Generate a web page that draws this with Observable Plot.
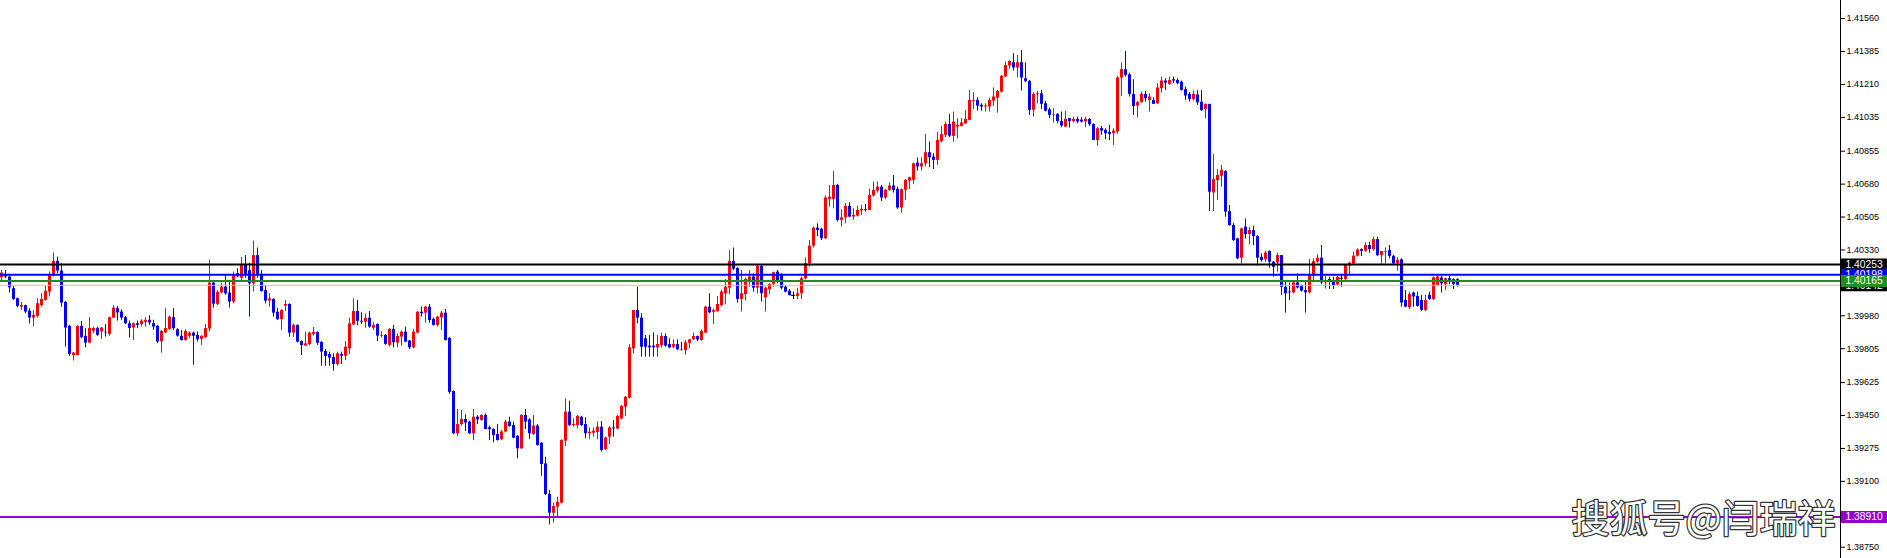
<!DOCTYPE html>
<html><head><meta charset="utf-8">
<script src="https://cdn.jsdelivr.net/npm/d3@7"></script>
<script src="https://cdn.jsdelivr.net/npm/@observablehq/plot@0.6"></script>
<style>
html,body{margin:0;padding:0;background:#fff;}
#chart svg{display:block;}
</style></head><body><div id="chart"></div>
<script>
const open = [
1.40182,1.40195,1.40186,1.40124,1.40071,1.40026,1.40034,1.40005,1.39968,1.39977,
1.40035,1.40062,1.40106,1.40191,1.40269,1.40218,1.40052,1.39924,1.39769,1.39769,
1.39924,1.39871,1.39835,1.39898,1.39912,1.39894,1.39892,1.39881,1.39968,1.40018,
1.40000,1.39970,1.39938,1.39915,1.39938,1.39933,1.39945,1.39956,1.39938,1.39924,
1.39842,1.39889,1.39908,1.39970,1.39906,1.39871,1.39849,1.39871,1.39888,1.39876,
1.39855,1.39864,1.39910,1.40154,1.40041,1.40101,1.40133,1.40101,1.40053,1.40204,
1.40180,1.40250,1.40220,1.40150,1.40300,1.40200,1.40114,1.40058,1.40067,1.39999,
1.39960,1.40031,1.40040,1.39888,1.39928,1.39843,1.39819,1.39827,1.39881,1.39891,
1.39838,1.39790,1.39774,1.39758,1.39721,1.39774,1.39765,1.39804,1.39932,1.40003,
1.39951,1.39946,1.39967,1.39914,1.39934,1.39872,1.39876,1.39823,1.39908,1.39835,
1.39867,1.39893,1.39846,1.39810,1.39888,1.39999,1.39994,1.40026,1.39961,1.39929,
1.39970,1.39994,1.39860,1.39578,1.39353,1.39402,1.39429,1.39415,1.39353,1.39441,
1.39424,1.39450,1.39385,1.39376,1.39349,1.39321,1.39362,1.39415,1.39397,1.39339,
1.39273,1.39450,1.39427,1.39349,1.39394,1.39303,1.39193,1.39030,1.38931,1.38963,
1.38984,1.39314,1.39468,1.39397,1.39397,1.39441,1.39402,1.39353,1.39356,1.39360,
1.39388,1.39268,1.39335,1.39384,1.39379,1.39432,1.39494,1.39542,1.39804,1.40008,
1.39968,1.39858,1.39819,1.39819,1.39810,1.39822,1.39870,1.39827,1.39813,1.39827,
1.39801,1.39796,1.39834,1.39854,1.39870,1.39849,1.39888,1.40026,1.39999,1.40003,
1.40035,1.40097,1.40127,1.40269,1.40232,1.40067,1.40093,1.40168,1.40186,1.40127,
1.40242,1.40076,1.40120,1.40147,1.40212,1.40200,1.40132,1.40111,1.40088,1.40083,
1.40097,1.40177,1.40257,1.40350,1.40446,1.40440,1.40390,1.40599,1.40599,1.40673,
1.40487,1.40501,1.40562,1.40505,1.40510,1.40537,1.40544,1.40540,1.40617,1.40643,
1.40664,1.40606,1.40647,1.40670,1.40652,1.40553,1.40647,1.40696,1.40700,1.40792,
1.40771,1.40788,1.40847,1.40824,1.40806,1.40907,1.40939,1.40997,1.40934,1.40983,
1.40987,1.41001,1.41019,1.41120,1.41125,1.41099,1.41090,1.41090,1.41121,1.41137,
1.41169,1.41249,1.41308,1.41325,1.41297,1.41325,1.41240,1.41226,1.41072,1.41155,
1.41160,1.41107,1.41075,1.41047,1.41050,1.41013,1.40983,1.41028,1.41013,1.41024,
1.41020,1.41010,1.41024,1.40997,1.40912,1.40976,1.40966,1.40955,1.40948,1.40957,
1.41244,1.41288,1.41261,1.41157,1.41095,1.41113,1.41157,1.41125,1.41125,1.41107,
1.41187,1.41228,1.41210,1.41235,1.41231,1.41222,1.41182,1.41157,1.41130,1.41154,
1.41115,1.41076,1.41103,1.40633,1.40699,1.40722,1.40747,1.40534,1.40460,1.40389,
1.40286,1.40451,1.40412,1.40433,1.40401,1.40291,1.40279,1.40322,1.40265,1.40261,
1.40300,1.40132,1.40106,1.40102,1.40155,1.40135,1.40114,1.40102,1.40191,1.40265,
1.40286,1.40155,1.40173,1.40162,1.40144,1.40180,1.40173,1.40244,1.40256,1.40297,
1.40332,1.40323,1.40354,1.40332,1.40385,1.40300,1.40318,1.40328,1.40296,1.40257,
1.40278,1.40062,1.40023,1.40101,1.40083,1.40062,1.40009,1.40089,1.40067,1.40142,
1.40181,1.40145,1.40177,1.40172,1.40172
];
const high = [
1.40221,1.40221,1.40189,1.40136,1.40074,1.40051,1.40037,1.40018,1.40009,1.40071,
1.40097,1.40136,1.40213,1.40314,1.40292,1.40257,1.40055,1.39929,1.39785,1.39927,
1.39950,1.39912,1.39970,1.39920,1.39920,1.39918,1.39933,1.39973,1.40035,1.40030,
1.40012,1.39977,1.39952,1.39941,1.39952,1.39959,1.39970,1.39980,1.39956,1.39929,
1.39902,1.40018,1.39977,1.40018,1.39912,1.39902,1.39906,1.39894,1.39894,1.39894,
1.39874,1.39934,1.40275,1.40168,1.40115,1.40154,1.40195,1.40168,1.40213,1.40230,
1.40290,1.40300,1.40260,1.40377,1.40340,1.40220,1.40141,1.40097,1.40070,1.40020,
1.40012,1.40061,1.40044,1.39937,1.39932,1.39847,1.39893,1.39893,1.39918,1.39895,
1.39842,1.39801,1.39787,1.39778,1.39787,1.39787,1.39843,1.39967,1.40070,1.40061,
1.39996,1.39990,1.40003,1.39943,1.39937,1.39896,1.39881,1.39911,1.39929,1.39884,
1.39899,1.39920,1.39849,1.39908,1.40003,1.40026,1.40030,1.40040,1.39968,1.39977,
1.40003,1.40014,1.39865,1.39580,1.39482,1.39477,1.39454,1.39420,1.39482,1.39450,
1.39454,1.39459,1.39394,1.39379,1.39402,1.39371,1.39424,1.39441,1.39415,1.39344,
1.39454,1.39482,1.39433,1.39450,1.39402,1.39306,1.39228,1.39051,1.38984,1.39016,
1.39321,1.39539,1.39526,1.39432,1.39450,1.39445,1.39438,1.39384,1.39384,1.39415,
1.39418,1.39335,1.39392,1.39423,1.39450,1.39503,1.39551,1.39827,1.40010,1.40132,
1.39991,1.39875,1.39875,1.39889,1.39875,1.39888,1.39884,1.39858,1.39852,1.39852,
1.39838,1.39849,1.39854,1.39888,1.39872,1.39905,1.40030,1.40097,1.40017,1.40083,
1.40115,1.40173,1.40327,1.40340,1.40235,1.40221,1.40180,1.40221,1.40203,1.40248,
1.40251,1.40132,1.40150,1.40212,1.40221,1.40203,1.40141,1.40120,1.40106,1.40127,
1.40186,1.40287,1.40380,1.40452,1.40469,1.40446,1.40617,1.40673,1.40748,1.40679,
1.40544,1.40576,1.40581,1.40549,1.40563,1.40567,1.40572,1.40652,1.40691,1.40691,
1.40673,1.40650,1.40686,1.40726,1.40664,1.40655,1.40705,1.40717,1.40792,1.40819,
1.40820,1.40944,1.40904,1.40842,1.40955,1.40987,1.41010,1.41051,1.41063,1.41028,
1.41028,1.41072,1.41178,1.41166,1.41139,1.41107,1.41107,1.41137,1.41191,1.41178,
1.41258,1.41329,1.41338,1.41373,1.41364,1.41391,1.41325,1.41231,1.41166,1.41173,
1.41178,1.41120,1.41084,1.41081,1.41054,1.41063,1.41067,1.41030,1.41036,1.41036,
1.41033,1.41036,1.41028,1.41001,1.40980,1.40987,1.40974,1.40992,1.40974,1.41253,
1.41325,1.41385,1.41270,1.41235,1.41120,1.41169,1.41173,1.41160,1.41139,1.41214,
1.41249,1.41240,1.41249,1.41249,1.41240,1.41228,1.41196,1.41166,1.41175,1.41177,
1.41177,1.41107,1.41105,1.40837,1.40757,1.40779,1.40752,1.40566,1.40472,1.40392,
1.40446,1.40495,1.40451,1.40456,1.40407,1.40309,1.40323,1.40325,1.40268,1.40314,
1.40300,1.40158,1.40155,1.40158,1.40203,1.40144,1.40162,1.40279,1.40283,1.40304,
1.40354,1.40189,1.40185,1.40185,1.40189,1.40194,1.40253,1.40265,1.40318,1.40336,
1.40336,1.40368,1.40371,1.40398,1.40398,1.40322,1.40341,1.40354,1.40301,1.40289,
1.40283,1.40115,1.40106,1.40106,1.40106,1.40089,1.40089,1.40106,1.40186,1.40191,
1.40189,1.40180,1.40189,1.40177,1.40177
];
const low = [
1.40168,1.40177,1.40101,1.40062,1.40023,1.40009,1.39991,1.39938,1.39920,1.39968,
1.40026,1.40058,1.40080,1.40186,1.40204,1.40026,1.39814,1.39764,1.39740,1.39768,
1.39858,1.39811,1.39832,1.39885,1.39871,1.39855,1.39867,1.39871,1.39965,1.39952,
1.39956,1.39933,1.39862,1.39849,1.39912,1.39920,1.39920,1.39929,1.39902,1.39832,
1.39782,1.39885,1.39902,1.39902,1.39867,1.39846,1.39846,1.39858,1.39717,1.39841,
1.39823,1.39858,1.39894,1.40021,1.40035,1.40097,1.40089,1.40021,1.40044,1.40182,
1.40160,1.40180,1.39973,1.40106,1.40180,1.40106,1.40044,1.40026,1.39973,1.39955,
1.39902,1.40003,1.39866,1.39866,1.39836,1.39769,1.39817,1.39819,1.39872,1.39822,
1.39712,1.39712,1.39712,1.39686,1.39712,1.39721,1.39742,1.39774,1.39928,1.39928,
1.39934,1.39914,1.39914,1.39902,1.39843,1.39861,1.39823,1.39814,1.39810,1.39810,
1.39819,1.39837,1.39801,1.39805,1.39884,1.39973,1.39941,1.39941,1.39925,1.39920,
1.39902,1.39846,1.39562,1.39349,1.39339,1.39394,1.39365,1.39349,1.39317,1.39402,
1.39420,1.39374,1.39317,1.39305,1.39314,1.39317,1.39358,1.39388,1.39326,1.39220,
1.39270,1.39376,1.39323,1.39344,1.39287,1.39127,1.39025,1.38869,1.38878,1.38910,
1.38980,1.39285,1.39392,1.39388,1.39379,1.39392,1.39326,1.39321,1.39335,1.39321,
1.39255,1.39264,1.39296,1.39335,1.39374,1.39427,1.39445,1.39539,1.39778,1.39938,
1.39760,1.39760,1.39760,1.39760,1.39760,1.39808,1.39813,1.39804,1.39804,1.39795,
1.39792,1.39771,1.39804,1.39849,1.39843,1.39845,1.39885,1.39991,1.39934,1.39999,
1.40026,1.40040,1.40093,1.40221,1.40047,1.40000,1.40058,1.40132,1.40106,1.40097,
1.40053,1.40000,1.40092,1.40132,1.40150,1.40118,1.40102,1.40085,1.40067,1.40067,
1.40067,1.40170,1.40240,1.40340,1.40400,1.40380,1.40385,1.40558,1.40549,1.40478,
1.40452,1.40469,1.40501,1.40487,1.40505,1.40514,1.40531,1.40540,1.40611,1.40632,
1.40588,1.40597,1.40641,1.40632,1.40546,1.40526,1.40593,1.40652,1.40679,1.40749,
1.40749,1.40771,1.40767,1.40758,1.40780,1.40898,1.40927,1.40927,1.40903,1.40921,
1.40983,1.40997,1.41019,1.41077,1.41068,1.41068,1.41063,1.41063,1.41093,1.41058,
1.41164,1.41246,1.41290,1.41281,1.41244,1.41175,1.41219,1.41045,1.41036,1.41107,
1.41077,1.41063,1.41028,1.41005,1.41001,1.40980,1.40980,1.40978,1.41005,1.41001,
1.41005,1.40980,1.40987,1.40912,1.40881,1.40939,1.40916,1.40912,1.40886,1.40944,
1.41146,1.41249,1.41143,1.41045,1.41031,1.41111,1.41116,1.41063,1.41104,1.41104,
1.41164,1.41178,1.41205,1.41214,1.41208,1.41175,1.41125,1.41116,1.41121,1.41098,
1.41066,1.41027,1.40534,1.40534,1.40593,1.40664,1.40504,1.40456,1.40375,1.40279,
1.40256,1.40389,1.40357,1.40353,1.40244,1.40265,1.40265,1.40233,1.40185,1.40212,
1.40088,1.39994,1.40061,1.40097,1.40123,1.40106,1.39994,1.40097,1.40155,1.40260,
1.40146,1.40123,1.40120,1.40120,1.40137,1.40132,1.40168,1.40194,1.40251,1.40292,
1.40295,1.40318,1.40313,1.40323,1.40295,1.40247,1.40256,1.40283,1.40248,1.40218,
1.40026,1.40023,1.40012,1.40026,1.40026,1.40003,1.40003,1.40062,1.40062,1.40142,
1.40101,1.40115,1.40145,1.40120,1.40133
];
const close = [
1.40207,1.40186,1.40129,1.40067,1.40030,1.40035,1.40000,1.39968,1.39982,1.40044,
1.40067,1.40110,1.40195,1.40269,1.40218,1.40048,1.39915,1.39775,1.39782,1.39924,
1.39864,1.39835,1.39913,1.39912,1.39876,1.39915,1.39889,1.39970,1.40021,1.39995,
1.39968,1.39938,1.39913,1.39938,1.39929,1.39952,1.39956,1.39942,1.39920,1.39841,
1.39897,1.39912,1.39973,1.39912,1.39872,1.39849,1.39897,1.39888,1.39871,1.39853,
1.39871,1.39912,1.40154,1.40042,1.40104,1.40133,1.40097,1.40053,1.40195,1.40186,
1.40250,1.40200,1.40150,1.40300,1.40200,1.40109,1.40058,1.40070,1.39994,1.39960,
1.40008,1.40040,1.39888,1.39928,1.39840,1.39822,1.39831,1.39888,1.39891,1.39834,
1.39787,1.39764,1.39755,1.39721,1.39778,1.39765,1.39813,1.39937,1.40003,1.39951,
1.39946,1.39967,1.39920,1.39928,1.39872,1.39876,1.39828,1.39908,1.39837,1.39870,
1.39893,1.39840,1.39810,1.39893,1.39999,1.39991,1.40026,1.39955,1.39929,1.39973,
1.39994,1.39849,1.39573,1.39353,1.39402,1.39429,1.39410,1.39353,1.39441,1.39427,
1.39450,1.39376,1.39376,1.39344,1.39317,1.39362,1.39415,1.39392,1.39330,1.39273,
1.39450,1.39415,1.39353,1.39394,1.39291,1.39190,1.39030,1.38931,1.38966,1.38989,
1.39317,1.39468,1.39397,1.39402,1.39445,1.39397,1.39353,1.39361,1.39367,1.39388,
1.39264,1.39331,1.39384,1.39379,1.39445,1.39498,1.39547,1.39810,1.40008,1.39968,
1.39813,1.39813,1.39810,1.39810,1.39827,1.39870,1.39819,1.39810,1.39827,1.39799,
1.39799,1.39836,1.39852,1.39870,1.39852,1.39897,1.40026,1.39996,1.40008,1.40040,
1.40106,1.40132,1.40269,1.40228,1.40067,1.40097,1.40173,1.40186,1.40127,1.40242,
1.40097,1.40127,1.40147,1.40209,1.40168,1.40127,1.40106,1.40088,1.40088,1.40097,
1.40177,1.40257,1.40350,1.40446,1.40434,1.40390,1.40606,1.40611,1.40673,1.40487,
1.40501,1.40562,1.40505,1.40514,1.40540,1.40546,1.40540,1.40620,1.40647,1.40664,
1.40606,1.40647,1.40670,1.40647,1.40553,1.40650,1.40700,1.40714,1.40788,1.40771,
1.40788,1.40847,1.40820,1.40806,1.40912,1.40943,1.40997,1.40935,1.41010,1.40992,
1.41005,1.41024,1.41125,1.41125,1.41095,1.41090,1.41095,1.41125,1.41143,1.41173,
1.41253,1.41311,1.41332,1.41297,1.41325,1.41244,1.41226,1.41072,1.41157,1.41160,
1.41104,1.41068,1.41045,1.41050,1.41013,1.40989,1.41024,1.41013,1.41024,1.41010,
1.41010,1.41024,1.40996,1.40912,1.40974,1.40962,1.40948,1.40944,1.40962,1.41244,
1.41288,1.41258,1.41157,1.41093,1.41113,1.41157,1.41134,1.41143,1.41104,1.41191,
1.41228,1.41217,1.41231,1.41228,1.41214,1.41178,1.41148,1.41130,1.41157,1.41112,
1.41071,1.41103,1.40637,1.40704,1.40726,1.40752,1.40531,1.40460,1.40380,1.40283,
1.40442,1.40412,1.40433,1.40401,1.40286,1.40274,1.40314,1.40265,1.40238,1.40300,
1.40132,1.40097,1.40102,1.40155,1.40128,1.40111,1.40102,1.40194,1.40268,1.40286,
1.40155,1.40168,1.40159,1.40141,1.40185,1.40180,1.40247,1.40260,1.40297,1.40330,
1.40323,1.40354,1.40332,1.40385,1.40300,1.40322,1.40322,1.40296,1.40257,1.40275,
1.40048,1.40026,1.40094,1.40080,1.40030,1.40009,1.40062,1.40067,1.40182,1.40186,
1.40150,1.40177,1.40168,1.40147,1.40142
];
const tickValues = [1.41560, 1.41385, 1.41210, 1.41035, 1.40855, 1.40680, 1.40505, 1.40330,
                    1.39980, 1.39805, 1.39625, 1.39450, 1.39275, 1.39100, 1.38750];
const resistance = 1.40253;   // black line
const blueLevel = 1.40198;    // blue line
const askLevel = 1.40165;     // green line
const bidLevel = 1.40142;     // grey line
const support = 1.38910;      // purple line
const watermark = "搜狐号@闫瑞祥";

const candles = open.map((o, i) => ({i, o, h: high[i], l: low[i], c: close[i]}));
const colorOf = d => d.c > d.o ? "#ff0000" : d.c < d.o ? "#0000ff" : "#000000";
const xMin = -0.25, xMax = 459.75;

function labelBox(v, color) {
  return [
    Plot.ruleY([v], {x1: xMax + 0.25, x2: xMax + 12.5, stroke: color, strokeWidth: 12}),
    Plot.text([v], {x: xMax, y: d => d, dx: 5, text: d => d.toFixed(5), textAnchor: "start",
                    fill: "white", fontSize: 10.3})
  ];
}

const chart = Plot.plot({
  width: 1887, height: 558,
  marginLeft: 0, marginRight: 47, marginTop: 0, marginBottom: 0,
  style: {background: "white", fontFamily: "'Liberation Sans', Arial, sans-serif", overflow: "visible", color: "black"},
  x: {domain: [xMin, xMax], axis: null},
  y: {domain: [1.38690, 1.41656], axis: null},
  marks: [
    Plot.ruleX(candles, {x: "i", y1: "l", y2: "h", stroke: colorOf, strokeWidth: 1}),
    Plot.ruleX(candles.filter(d => d.o !== d.c), {x: "i", y1: "o", y2: "c", stroke: colorOf, strokeWidth: 3}),
    Plot.ruleY(candles.filter(d => d.o === d.c), {y: "o", x1: d => d.i - 0.5, x2: d => d.i + 0.5, stroke: "black"}),
    Plot.ruleY([bidLevel], {stroke: "#c0c0c0", strokeWidth: 1}),
    Plot.ruleY([resistance], {stroke: "black", strokeWidth: 2}),
    Plot.ruleY([blueLevel], {stroke: "#0000ff", strokeWidth: 2}),
    Plot.ruleY([askLevel], {stroke: "#228b22", strokeWidth: 2}),
    Plot.ruleY([support], {stroke: "#9400d3", strokeWidth: 2}),
    Plot.ruleX([xMax], {stroke: "black"}),
    Plot.axisY(tickValues, {anchor: "right", tickSize: 4, tickPadding: 2, fontSize: 9,
                            tickFormat: d => d.toFixed(5)}),
    ...labelBox(resistance, "black"),
    ...labelBox(blueLevel, "#0000ff"),
    ...labelBox(bidLevel, "black"),
    ...labelBox(askLevel, "#228b22"),
    ...labelBox(support, "#9400d3"),
    Plot.text([watermark], {frameAnchor: "bottom-right", dx: -5, dy: -39, textAnchor: "end", lineAnchor: "middle",
      fontSize: 38, fontFamily: "'Noto Sans CJK SC'", fill: "white", stroke: "#333", strokeWidth: 2.5, paintOrder: "stroke"})
  ]
});
document.getElementById("chart").append(chart);
</script>
</body></html>
